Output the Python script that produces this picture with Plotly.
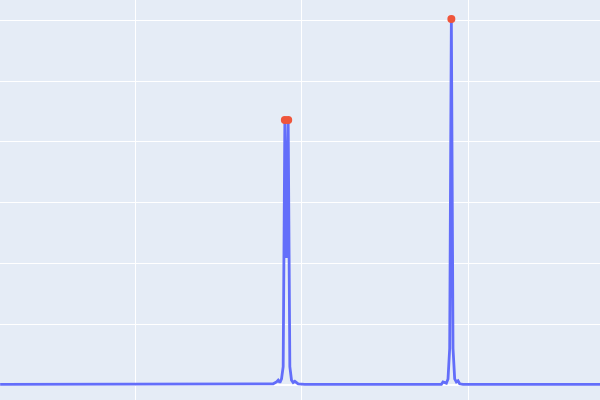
import plotly.graph_objects as go

# Spectrum samples (frequency, magnitude)
freq = [1.9, 5.0, 8.0, 11.0, 14.0, 16.0, 17.5, 18.3, 18.5, 18.6, 18.7, 18.8, 18.9,
        19.0, 19.1, 19.2, 19.3, 19.4, 19.5, 19.6, 19.8, 20.2, 22.0, 25.0, 27.0,
        28.2, 28.4, 28.5, 28.6, 28.7, 28.8, 28.9, 29.0, 29.1, 29.2, 29.3, 29.4,
        29.5, 29.7, 30.0, 33.0, 36.0, 38.0]
mag = [0.01, 0.01, 0.01, 0.01, 0.01, 0.01, 0.02, 0.02, 0.05, 0.08, 0.04, 0.10, 0.30,
       4.36, 2.09, 4.36, 0.30, 0.08, 0.04, 0.06, 0.02, 0.01, 0.01, 0.01, 0.01,
       0.02, 0.01, 0.05, 0.04, 0.03, 0.10, 0.60, 6.02, 0.60, 0.10, 0.05, 0.07,
       0.02, 0.01, 0.01, 0.01, 0.01, 0.01]

# Detected peaks
peak_freq = [19.0, 19.2, 29.0]
peak_mag = [4.36, 4.36, 6.02]

fig = go.Figure()
fig.add_trace(go.Scatter(x=freq, y=mag, mode="lines",
                         line=dict(color="#636efa", width=2.8), showlegend=False))
fig.add_trace(go.Scatter(x=peak_freq, y=peak_mag, mode="markers",
                         marker=dict(color="#EF553B", size=8), showlegend=False))

x0 = 10 - 135 / 16.65
y0 = -15 / 60.8
fig.update_layout(
    width=600, height=400,
    margin=dict(l=0, r=0, t=0, b=0),
    template="plotly",
    xaxis=dict(range=[x0, x0 + 600 / 16.65], dtick=10, tick0=0,
               showticklabels=False, zeroline=False),
    yaxis=dict(range=[y0, y0 + 400 / 60.8], dtick=1, tick0=0,
               showticklabels=False, zeroline=True),
)
fig.write_html("out.html",
               config={"displayModeBar": False},
               post_script="document.body.style.margin='0';document.body.style.overflow='hidden';")
